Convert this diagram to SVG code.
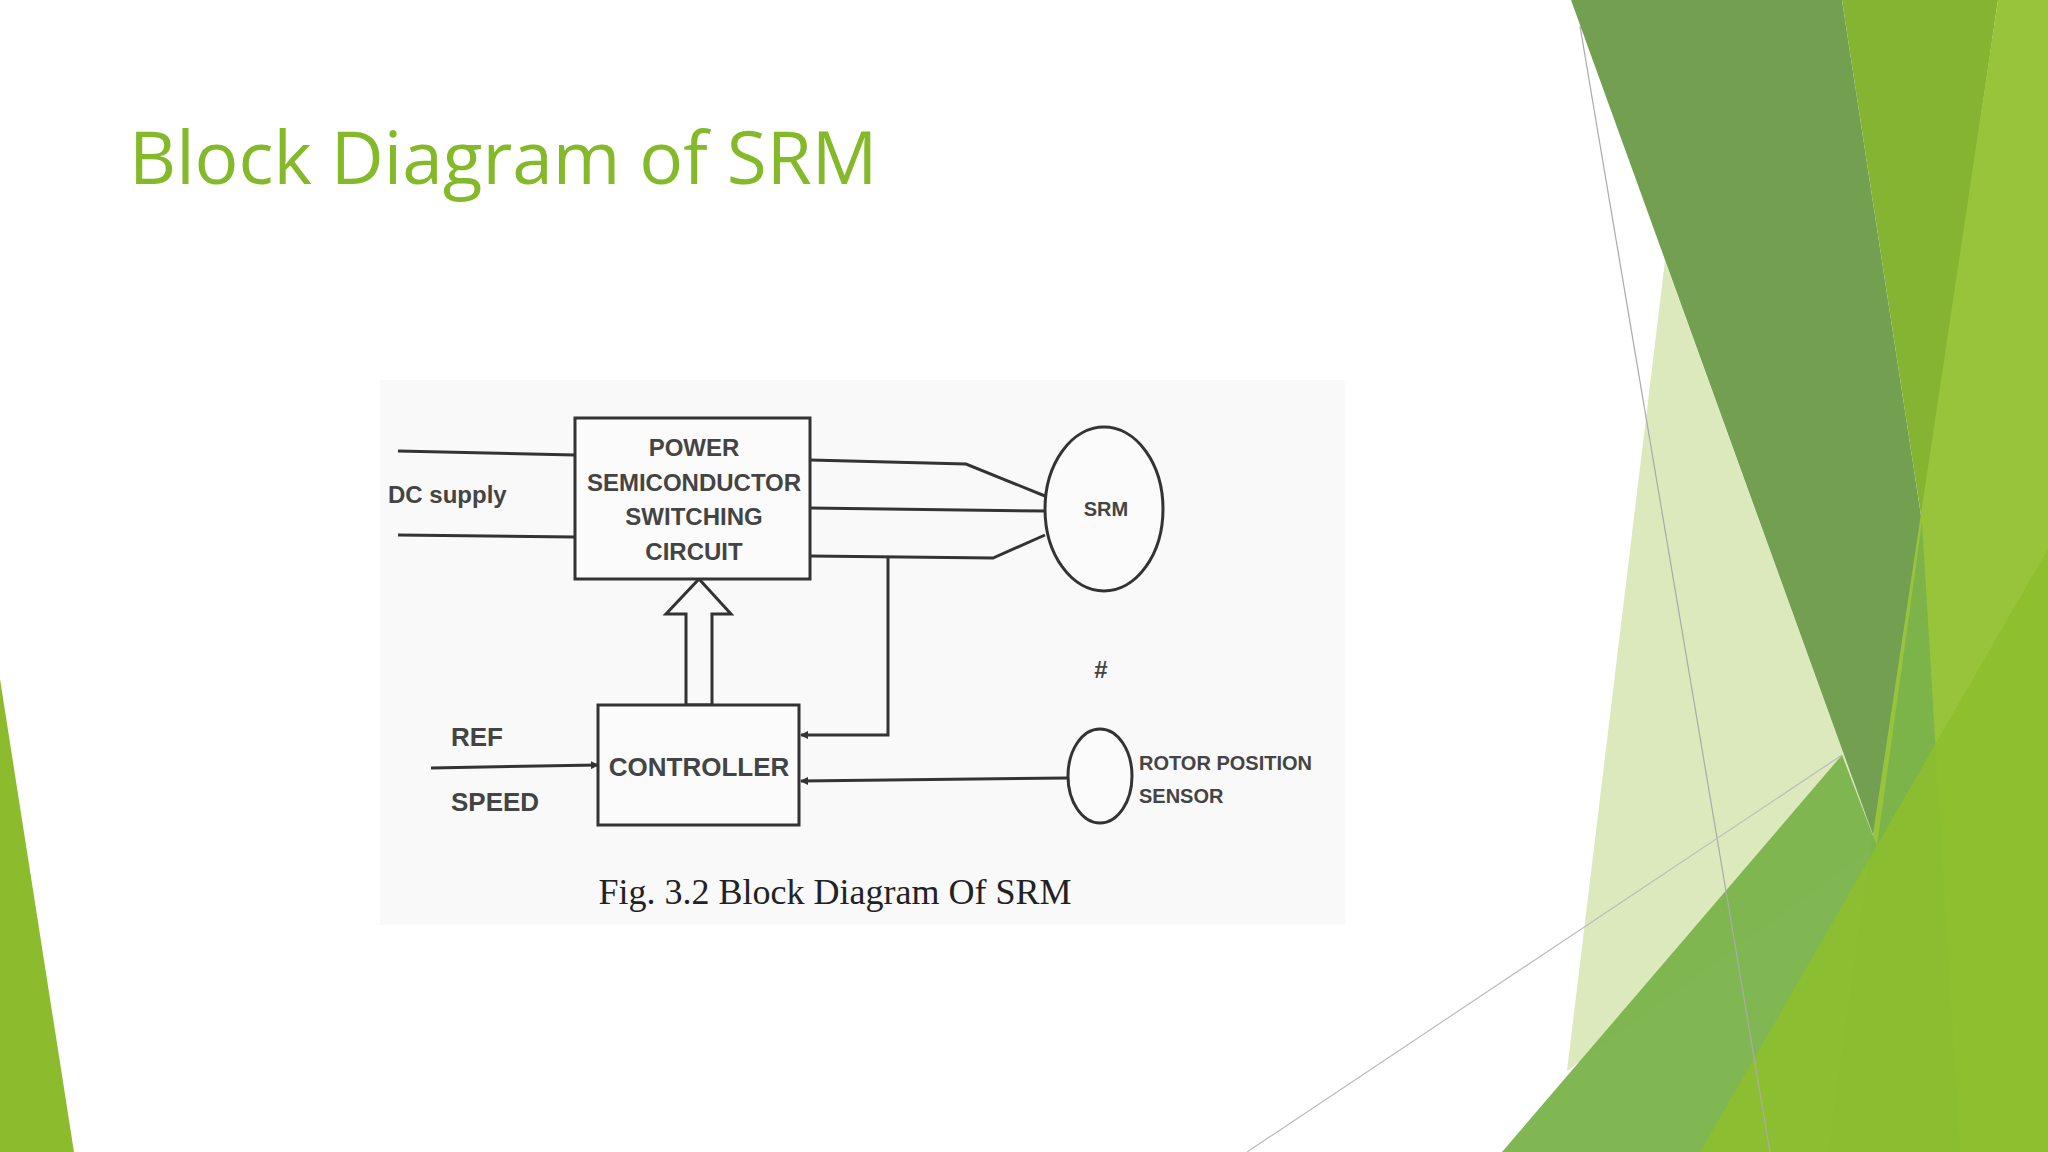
<svg xmlns="http://www.w3.org/2000/svg" width="2048" height="1152" viewBox="0 0 2048 1152">
<style>
.ln{stroke:#333;stroke-width:3;fill:none}
.bx{stroke:#333;stroke-width:3;fill:#fbfbfb}
.t{font-family:"Liberation Sans Narrow","Liberation Sans",Arial,sans-serif;font-weight:bold;fill:#444;text-anchor:middle}
.tl{font-family:"Liberation Sans Narrow","Liberation Sans",Arial,sans-serif;font-weight:bold;fill:#444}
</style>
<defs>
<marker id="ah" markerWidth="8" markerHeight="8" refX="7" refY="4" orient="auto" markerUnits="userSpaceOnUse"><path d="M0,0 L8,4 L0,8 Z" fill="#333"/></marker>
</defs>
<rect width="2048" height="1152" fill="#fff"/>
<polygon points="0,679 0,1152 74,1152" fill="#8cbc2e"/>
<polygon points="1665,261 1877,846 1567,1071" fill="#dce9bd"/>
<polygon points="1571,0 1842,0 1922,522 1877,846" fill="#72a050"/>
<polygon points="1842,0 1998,0 1922,522" fill="#84b431"/>
<polygon points="1998,0 2048,0 2048,1152 1828,1152 1861,914" fill="#97c43b"/>
<polygon points="1502,1152 1842,755 1877,846 1922,522 1960,1152" fill="#7ab34a" opacity="0.95"/>
<polygon points="1700,1152 2048,549 2048,1152" fill="#8cbf2e" opacity="0.9"/>
<line x1="1580" y1="26" x2="1770" y2="1152" stroke="#aaa" stroke-width="1.2"/>
<line x1="1247" y1="1152" x2="1842" y2="755" stroke="#bbb" stroke-width="1.2"/>
<text x="129" y="184" font-family="'Open Sans','Noto Sans',sans-serif" font-size="73" fill="#84b92a">Block Diagram of SRM</text>
<rect x="380" y="380" width="965" height="545" fill="#f8f9f8"/>
<g id="connectors">
<line class="ln" x1="398" y1="451" x2="575" y2="455"/>
<line class="ln" x1="398" y1="535" x2="575" y2="537"/>
<polyline class="ln" points="810,460 966,464 1045,496"/>
<polyline class="ln" points="810,508 1045,511"/>
<polyline class="ln" points="810,556 993,558 1045,535"/>
<polyline class="ln" points="888,557 888,735 801,735" marker-end="url(#ah)"/>
<line class="ln" x1="431" y1="768" x2="598" y2="765" marker-end="url(#ah)"/>
<line class="ln" x1="1068" y1="778" x2="801" y2="781" marker-end="url(#ah)"/>
<polygon class="ln" points="686,705 686,614 666,614 699,579 731,614 712,614 712,705" fill="#fbfbfb"/>
</g>
<g id="power">
<rect class="bx" x="575" y="418" width="235" height="161"/>
<text class="t" x="694" y="456" font-size="24">POWER</text>
<text class="t" x="694" y="491" font-size="24">SEMICONDUCTOR</text>
<text class="t" x="694" y="525" font-size="24">SWITCHING</text>
<text class="t" x="694" y="560" font-size="24">CIRCUIT</text>
</g>
<g id="dc"><text class="tl" x="388" y="503" font-size="24" font-weight="normal">DC supply</text></g>
<g id="srm">
<ellipse class="bx" cx="1104" cy="509" rx="59" ry="82"/>
<text class="t" x="1106" y="516" font-size="20">SRM</text>
</g>
<g id="coupling"><text class="t" x="1101" y="678" font-size="24">#</text></g>
<g id="controller">
<rect class="bx" x="598" y="705" width="201" height="120"/>
<text class="t" x="699" y="776" font-size="26">CONTROLLER</text>
</g>
<g id="ref">
<text class="tl" x="451" y="746" font-size="26">REF</text>
<text class="tl" x="451" y="811" font-size="26">SPEED</text>
</g>
<g id="sensor">
<ellipse class="bx" cx="1100" cy="776" rx="32" ry="47"/>
<text class="tl" x="1139" y="770" font-size="20">ROTOR POSITION</text>
<text class="tl" x="1139" y="803" font-size="20">SENSOR</text>
</g>
<text x="835" y="904" font-family="'Liberation Serif',serif" font-size="36" fill="#222" text-anchor="middle">Fig. 3.2 Block Diagram Of SRM</text>
</svg>
